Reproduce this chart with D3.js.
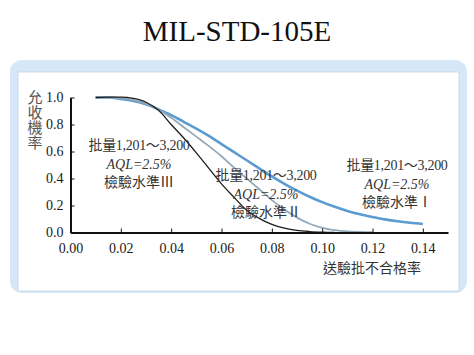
<!DOCTYPE html>
<html><head><meta charset="utf-8">
<script src="https://cdn.jsdelivr.net/npm/d3@7/dist/d3.min.js"></script>
<style>
html,body{margin:0;padding:0;background:#fff;}
svg{display:block;}
</style>
</head><body>
<svg id="c" width="474" height="355"></svg>
<script>
const title = "MIL-STD-105E";
const yTitle = "允收機率";
const xTitle = "送驗批不合格率";
const xTicks = [0.00,0.02,0.04,0.06,0.08,0.10,0.12,0.14];
const yTicks = [0.0,0.2,0.4,0.6,0.8,1.0];
const defectRate = [0.010,0.015,0.020,0.025,0.030,0.035,0.040,0.045,0.050,0.055,0.060,0.065,0.070,0.075,0.080,0.085,0.090,0.095,0.100,0.105,0.110,0.115,0.120,0.125,0.130,0.135,0.140];
const levelIII = [1.0,1.003,1.003,0.993,0.965,0.905,0.80,0.70,0.59,0.475,0.36,0.26,0.165,0.105,0.06,0.032,0.015,0.007,0.003,0.001,null,null,null,null,null,null,null];
const levelII  = [1.0,1.0,0.995,0.98,0.955,0.91,0.85,0.78,0.71,0.64,0.565,0.48,0.40,0.32,0.24,0.17,0.11,0.065,0.035,0.018,0.008,0.004,0.002,null,null,null,null];
const levelI   = [1.0,1.0,0.99,0.975,0.95,0.912,0.87,0.82,0.77,0.715,0.655,0.595,0.535,0.475,0.415,0.36,0.31,0.265,0.225,0.19,0.16,0.135,0.115,0.097,0.083,0.072,0.063];
const labelLot = "批量1,201～3,200";
const labelAQL = ["AQL","=2.5%"];
const labelLevels = ["檢驗水準Ⅲ","檢驗水準Ⅱ","檢驗水準Ⅰ"];

const svg = d3.select("#c");
const serif = "Liberation Serif, Noto Sans CJK TC, serif";
const cjk = "Noto Sans CJK TC, sans-serif";

// title
svg.append("text").attr("x",237).attr("y",41).attr("text-anchor","middle")
  .attr("font-family",serif).attr("font-size",29).attr("fill","#111").text(title);

// panels
svg.append("rect").attr("x",10).attr("y",60).attr("width",457).attr("height",233).attr("rx",12)
  .attr("fill","#d6e7f8");
svg.append("rect").attr("x",18).attr("y",72).attr("width",441).attr("height",219)
  .attr("fill","#fff").attr("stroke","#c9d9ea").attr("stroke-width",1);

const x = d3.scaleLinear().domain([0,0.15]).range([70.5,448]);
const y = d3.scaleLinear().domain([0,1]).range([232.5,97.5]);

// curves
const series = [
  {v: levelI,   color:"#5b9bd2", w:2.6},
  {v: levelII,  color:"#94a9b8", w:1.8},
  {v: levelIII, color:"#1c1c1c", w:1.3}
];
series.forEach(s=>{
  const pts = defectRate.map((d,i)=>[d,s.v[i]]).filter(p=>p[1]!==null);
  svg.append("path").datum(pts)
    .attr("d", d3.line().x(d=>x(d[0])).y(d=>y(d[1])).curve(d3.curveMonotoneX))
    .attr("fill","none").attr("stroke",s.color).attr("stroke-width",s.w);
});

// axes
const gx = svg.append("g").attr("transform",`translate(0,${y(0)})`)
  .call(d3.axisBottom(x).tickValues(xTicks).tickFormat(d3.format(".2f")).tickSizeInner(-4).tickSizeOuter(0).tickPadding(11));
const gy = svg.append("g").attr("transform",`translate(${x(0)},0)`)
  .call(d3.axisLeft(y).tickValues(yTicks).tickFormat(d3.format(".1f")).tickSizeInner(-4).tickSizeOuter(0).tickPadding(7));
[gx,gy].forEach(g=>{
  g.attr("font-family",serif).attr("font-size",14);
  g.select(".domain").attr("stroke","#111").attr("stroke-width",2);
  g.selectAll(".tick line").attr("stroke","#111").attr("stroke-width",1);
  g.selectAll(".tick text").attr("font-family",serif).attr("font-size",14).attr("fill","#1a1a1a");
});

// axis titles
svg.append("text").attr("x",35).attr("y",90)
  .style("writing-mode","vertical-rl").attr("text-anchor","start")
  .attr("font-family",cjk).attr("font-size",15).attr("fill","#555").text(yTitle);
svg.append("text").attr("x",372).attr("y",273).attr("text-anchor","middle")
  .attr("font-family",cjk).attr("font-size",14).attr("fill","#333").text(xTitle);

// curve labels
const labelPos = [[139,150],[266,180],[397,170]];
labelPos.forEach((p,i)=>{
  const g = svg.append("g").attr("fill","#333").attr("font-family",serif).attr("font-size",14);
  g.append("text").attr("x",p[0]).attr("y",p[1]).attr("text-anchor","middle")
    .attr("letter-spacing",-0.3).text(labelLot);
  const t = g.append("text").attr("x",p[0]).attr("y",p[1]+19).attr("text-anchor","middle")
    .attr("font-style","italic");
  t.append("tspan").text(labelAQL[0]);
  t.append("tspan").text(labelAQL[1]);
  g.append("text").attr("x",p[0]).attr("y",p[1]+37).attr("text-anchor","middle")
    .attr("font-family",cjk).text(labelLevels[i]);
});
</script>
</body></html>
